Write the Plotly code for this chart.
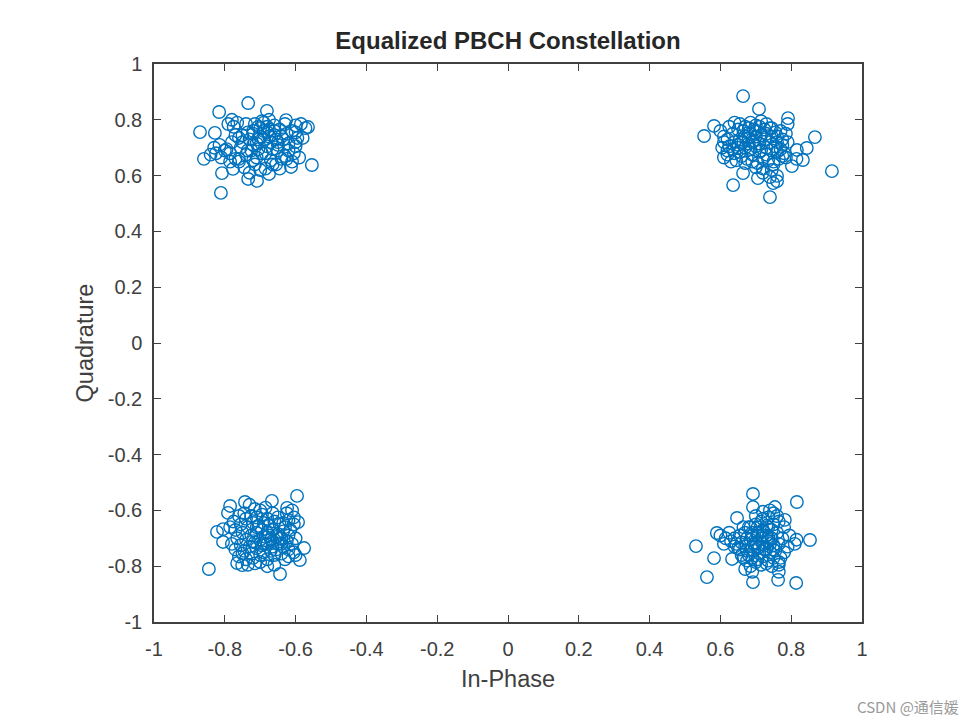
import plotly.graph_objects as go

# values, one pair of lists per constellation cluster
tl_i = [-0.734, -0.816, -0.87, -0.828, -0.859, -0.554, -0.811, -0.808, -0.777, -0.734, -0.709, -0.675, -0.613, -0.681, -0.627, -0.565,
        -0.585, -0.6, -0.572, -0.78, -0.79, -0.775, -0.765, -0.8, -0.785, -0.77, -0.84, -0.825, -0.81, -0.795, -0.83, -0.815,
        -0.78, -0.76, -0.75, -0.735, -0.72, -0.705, -0.69, -0.675, -0.66, -0.645, -0.63, -0.61, -0.595, -0.58, -0.6, -0.62,
        -0.64, -0.655, -0.67, -0.685, -0.7, -0.715, -0.73, -0.745, -0.76, -0.74, -0.725, -0.71, -0.695, -0.68, -0.665, -0.65,
        -0.635, -0.62, -0.605, -0.59, -0.61, -0.63, -0.65, -0.67, -0.69, -0.71, -0.73, -0.75, -0.77, -0.755, -0.72, -0.7,
        -0.68, -0.66, -0.64, -0.625, -0.6, -0.715, -0.695, -0.675, -0.655, -0.735, -0.705, -0.685, -0.665, -0.645, -0.72, -0.69,
        -0.74, -0.76, -0.705, -0.675, -0.65, -0.625, -0.6, -0.785, -0.7, -0.68, -0.66, -0.72]
tl_q = [0.86, 0.828, 0.756, 0.753, 0.66, 0.638, 0.538, 0.609, 0.624, 0.588, 0.581, 0.606, 0.631, 0.832, 0.799, 0.774,
        0.785, 0.78, 0.77, 0.8, 0.785, 0.775, 0.79, 0.69, 0.68, 0.66, 0.675, 0.68, 0.665, 0.695, 0.7, 0.71,
        0.72, 0.735, 0.745, 0.755, 0.76, 0.775, 0.79, 0.8, 0.78, 0.765, 0.785, 0.76, 0.735, 0.735, 0.705, 0.69,
        0.66, 0.64, 0.655, 0.625, 0.62, 0.64, 0.61, 0.63, 0.66, 0.675, 0.69, 0.665, 0.68, 0.705, 0.695, 0.72,
        0.73, 0.715, 0.68, 0.665, 0.65, 0.67, 0.69, 0.72, 0.73, 0.715, 0.73, 0.72, 0.745, 0.7, 0.75, 0.74,
        0.755, 0.745, 0.74, 0.75, 0.755, 0.785, 0.795, 0.765, 0.73, 0.69, 0.695, 0.68, 0.64, 0.625, 0.655, 0.76,
        0.785, 0.65, 0.73, 0.74, 0.71, 0.66, 0.72, 0.65, 0.77, 0.775, 0.76, 0.71]

tr_i = [0.664, 0.709, 0.554, 0.582, 0.791, 0.867, 0.844, 0.915, 0.636, 0.74, 0.664, 0.706, 0.749, 0.76, 0.802, 0.833, 0.816,
        0.6, 0.61, 0.62, 0.63, 0.645, 0.66, 0.675, 0.69, 0.705, 0.72, 0.735, 0.75, 0.765, 0.78, 0.775, 0.76,
        0.745, 0.73, 0.715, 0.7, 0.685, 0.67, 0.655, 0.64, 0.625, 0.61, 0.605, 0.62, 0.635, 0.65, 0.665, 0.68,
        0.695, 0.71, 0.725, 0.74, 0.755, 0.77, 0.785, 0.79, 0.775, 0.76, 0.745, 0.73, 0.715, 0.7, 0.685, 0.67,
        0.655, 0.64, 0.625, 0.61, 0.62, 0.635, 0.65, 0.665, 0.68, 0.695, 0.71, 0.725, 0.74, 0.755, 0.77, 0.785,
        0.775, 0.76, 0.745, 0.73, 0.715, 0.7, 0.685, 0.67, 0.655, 0.64, 0.69, 0.71, 0.73, 0.75, 0.67, 0.65,
        0.7, 0.72, 0.74, 0.69, 0.66, 0.68, 0.79, 0.815, 0.72, 0.745, 0.76, 0.7]
tr_q = [0.885, 0.839, 0.742, 0.778, 0.806, 0.738, 0.699, 0.616, 0.566, 0.523, 0.609, 0.591, 0.573, 0.599, 0.634, 0.656, 0.692,
        0.76, 0.72, 0.69, 0.65, 0.655, 0.67, 0.66, 0.65, 0.645, 0.66, 0.655, 0.65, 0.66, 0.68, 0.71, 0.74,
        0.77, 0.785, 0.795, 0.78, 0.79, 0.775, 0.785, 0.79, 0.775, 0.74, 0.7, 0.73, 0.75, 0.765, 0.76, 0.77,
        0.765, 0.775, 0.765, 0.77, 0.755, 0.76, 0.75, 0.72, 0.73, 0.72, 0.74, 0.75, 0.745, 0.74, 0.75, 0.74,
        0.73, 0.72, 0.705, 0.665, 0.675, 0.695, 0.71, 0.72, 0.715, 0.725, 0.715, 0.73, 0.72, 0.705, 0.695, 0.665,
        0.67, 0.685, 0.69, 0.7, 0.69, 0.705, 0.695, 0.7, 0.685, 0.68, 0.675, 0.685, 0.675, 0.64, 0.645, 0.7,
        0.63, 0.61, 0.595, 0.72, 0.72, 0.735, 0.785, 0.66, 0.625, 0.62, 0.58, 0.76]

bl_i = [-0.596, -0.667, -0.785, -0.791, -0.743, -0.624, -0.593, -0.822, -0.805, -0.805, -0.845, -0.576, -0.588, -0.644, -0.751, -0.765,
        -0.61, -0.625, -0.605, -0.73, -0.715, -0.7, -0.685, -0.76, -0.745, -0.775, -0.785, -0.77, -0.755, -0.74, -0.725, -0.71,
        -0.695, -0.68, -0.665, -0.65, -0.635, -0.62, -0.605, -0.615, -0.63, -0.645, -0.66, -0.675, -0.69, -0.705, -0.72, -0.735,
        -0.75, -0.765, -0.78, -0.77, -0.755, -0.74, -0.725, -0.71, -0.695, -0.68, -0.665, -0.65, -0.635, -0.62, -0.6, -0.61,
        -0.625, -0.64, -0.655, -0.67, -0.685, -0.7, -0.715, -0.73, -0.745, -0.76, -0.74, -0.725, -0.71, -0.695, -0.68, -0.665,
        -0.65, -0.635, -0.62, -0.605, -0.72, -0.7, -0.68, -0.66, -0.64, -0.62, -0.735, -0.715, -0.69, -0.67, -0.655, -0.63,
        -0.66, -0.68, -0.7, -0.72, -0.75, -0.675, -0.645, -0.6, -0.69, -0.665, -0.71, -0.64]
bl_q = [-0.548, -0.566, -0.584, -0.609, -0.57, -0.591, -0.642, -0.677, -0.667, -0.713, -0.81, -0.735, -0.778, -0.828, -0.796, -0.789,
        -0.6, -0.61, -0.625, -0.58, -0.595, -0.6, -0.59, -0.62, -0.61, -0.64, -0.66, -0.67, -0.65, -0.63, -0.62, -0.625,
        -0.615, -0.63, -0.61, -0.625, -0.645, -0.635, -0.65, -0.67, -0.66, -0.65, -0.64, -0.655, -0.645, -0.655, -0.645, -0.66,
        -0.68, -0.7, -0.72, -0.74, -0.725, -0.705, -0.69, -0.68, -0.67, -0.68, -0.67, -0.685, -0.675, -0.69, -0.7, -0.72,
        -0.71, -0.7, -0.695, -0.705, -0.695, -0.705, -0.715, -0.73, -0.745, -0.765, -0.775, -0.755, -0.735, -0.725, -0.72, -0.73,
        -0.72, -0.73, -0.74, -0.75, -0.77, -0.785, -0.775, -0.76, -0.755, -0.765, -0.795, -0.79, -0.75, -0.745, -0.74, -0.775,
        -0.795, -0.8, -0.76, -0.71, -0.755, -0.69, -0.7, -0.76, -0.72, -0.71, -0.66, -0.72]

br_i = [0.692, 0.816, 0.531, 0.562, 0.692, 0.814, 0.763, 0.853, 0.582, 0.633, 0.782, 0.647, 0.692, 0.754, 0.81, 0.59, 0.815,
        0.6, 0.615, 0.63, 0.645, 0.66, 0.675, 0.69, 0.705, 0.72, 0.735, 0.75, 0.765, 0.78, 0.795, 0.61, 0.625,
        0.64, 0.655, 0.67, 0.685, 0.7, 0.715, 0.73, 0.745, 0.76, 0.775, 0.79, 0.745, 0.73, 0.715, 0.7, 0.685,
        0.67, 0.655, 0.64, 0.66, 0.675, 0.69, 0.705, 0.72, 0.735, 0.75, 0.765, 0.78, 0.77, 0.755, 0.74, 0.725,
        0.71, 0.695, 0.68, 0.665, 0.65, 0.675, 0.69, 0.705, 0.72, 0.735, 0.75, 0.765, 0.745, 0.73, 0.715, 0.7,
        0.685, 0.67, 0.69, 0.705, 0.72, 0.735, 0.75, 0.76, 0.7, 0.72, 0.74, 0.765, 0.74, 0.72, 0.705, 0.68,
        0.665, 0.71, 0.73, 0.75, 0.695, 0.765, 0.72, 0.735, 0.69]
br_q = [-0.541, -0.57, -0.728, -0.839, -0.857, -0.86, -0.849, -0.706, -0.771, -0.774, -0.634, -0.627, -0.588, -0.588, -0.72, -0.681, -0.705,
        -0.69, -0.7, -0.71, -0.72, -0.715, -0.7, -0.69, -0.68, -0.67, -0.66, -0.65, -0.64, -0.66, -0.69, -0.72, -0.68,
        -0.7, -0.69, -0.68, -0.66, -0.65, -0.64, -0.655, -0.67, -0.68, -0.7, -0.73, -0.7, -0.69, -0.7, -0.715, -0.705,
        -0.73, -0.74, -0.73, -0.76, -0.745, -0.73, -0.735, -0.72, -0.71, -0.725, -0.72, -0.75, -0.77, -0.745, -0.75, -0.74,
        -0.755, -0.745, -0.76, -0.77, -0.735, -0.78, -0.77, -0.775, -0.765, -0.78, -0.77, -0.795, -0.8, -0.79, -0.795, -0.785,
        -0.8, -0.81, -0.68, -0.66, -0.63, -0.625, -0.61, -0.62, -0.62, -0.605, -0.6, -0.82, -0.72, -0.69, -0.69, -0.66,
        -0.66, -0.73, -0.74, -0.74, -0.72, -0.785, -0.675, -0.695, -0.82]

tick_vals = [-1, -0.8, -0.6, -0.4, -0.2, 0, 0.2, 0.4, 0.6, 0.8, 1]
tick_text = ['-1', '-0.8', '-0.6', '-0.4', '-0.2', '0', '0.2', '0.4', '0.6', '0.8', '1']

AXIS_COLOR = '#404040'


def axis_style(title, standoff, label_gap):
    return dict(
        range=[-1, 1],
        tickmode='array',
        tickvals=tick_vals,
        ticktext=tick_text,
        ticks='inside',
        ticklen=7,
        tickwidth=1,
        tickcolor=AXIS_COLOR,
        ticklabelstandoff=label_gap,
        showline=True,
        linecolor=AXIS_COLOR,
        linewidth=1.5,
        mirror='ticks',
        showgrid=False,
        zeroline=False,
        tickfont=dict(family='Liberation Sans', size=20, color=AXIS_COLOR),
        title=dict(text=title, standoff=standoff,
                   font=dict(family='Liberation Sans', size=23.5, color=AXIS_COLOR)),
    )


fig = go.Figure()
fig.add_trace(go.Scatter(
    x=tl_i + tr_i + bl_i + br_i,
    y=tl_q + tr_q + bl_q + br_q,
    mode='markers',
    marker=dict(symbol='circle-open', size=12.5, color='#0072BD', line=dict(width=1.4, color='#1a7fc4')),
    cliponaxis=False,
    showlegend=False,
))
# the page puts the figure 8px in from the window's top left
fig.update_layout(
    width=960,
    height=710,
    margin=dict(l=146, r=106, t=56, b=96),
    autosize=False,
    paper_bgcolor='white',
    plot_bgcolor='white',
    title=dict(text='<b>Equalized PBCH Constellation</b>', x=500 / 960, xanchor='center', y=1 - 33 / 710, yanchor='middle',
               font=dict(family='Liberation Sans', size=24, color='#262626')),
    xaxis=axis_style('In-Phase', 12, 8),
    yaxis=axis_style('Quadrature', 8, 6),
)
fig.add_annotation(text='CSDN @通信媛', xref='paper', yref='paper', x=(961 - 154) / 708, y=(622 - 706) / 558,
                   xanchor='right', yanchor='middle', showarrow=False,
                   font=dict(family='Noto Sans CJK SC, Liberation Sans', size=15, color='#9a9a9a'))
fig.write_html("out.html")
